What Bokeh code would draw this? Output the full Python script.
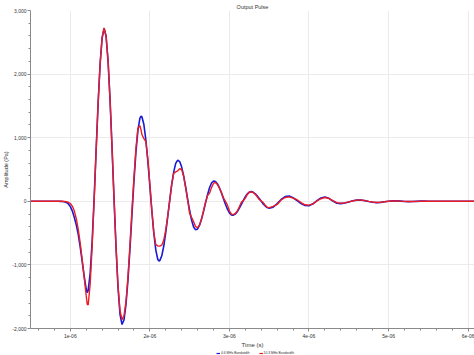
from bokeh.plotting import figure
from bokeh.layouts import column
from bokeh.models import (Legend, LegendItem, FixedTicker, NumeralTickFormatter,
                          CustomJSTickFormatter, Range1d)
from bokeh.embed import file_html
from bokeh.resources import INLINE

# time in microseconds
time_us = [
    0.45, 0.6, 0.75, 0.8, 0.85, 0.875, 0.9, 0.925, 0.95, 0.975,
    1.0, 1.025, 1.05, 1.075, 1.1, 1.125, 1.15, 1.175, 1.2, 1.213,
    1.225, 1.25, 1.275, 1.3, 1.325, 1.35, 1.375, 1.4, 1.425, 1.45,
    1.475, 1.5, 1.525, 1.55, 1.575, 1.6, 1.625, 1.65, 1.675, 1.7,
    1.725, 1.75, 1.775, 1.8, 1.825, 1.85, 1.875, 1.89, 1.9, 1.925,
    1.95, 1.975, 2.0, 2.025, 2.05, 2.075, 2.1, 2.115, 2.125, 2.15,
    2.175, 2.2, 2.225, 2.25, 2.275, 2.3, 2.325, 2.35, 2.375, 2.4,
    2.425, 2.45, 2.475, 2.5, 2.525, 2.55, 2.575, 2.6, 2.625, 2.65,
    2.675, 2.7, 2.725, 2.75, 2.775, 2.8, 2.825, 2.85, 2.875, 2.9,
    2.925, 2.95, 2.975, 3.0, 3.025, 3.04, 3.05, 3.075, 3.1, 3.125,
    3.15, 3.175, 3.2, 3.225, 3.25, 3.275, 3.3, 3.325, 3.35, 3.375,
    3.4, 3.425, 3.45, 3.475, 3.5, 3.55, 3.6, 3.65, 3.7, 3.75,
    3.8, 3.85, 3.9, 3.95, 4.0, 4.05, 4.1, 4.15, 4.2, 4.25,
    4.3, 4.35, 4.4, 4.45, 4.5, 4.55, 4.6, 4.65, 4.7, 4.75,
    4.8, 4.85, 4.9, 4.95, 5.0, 5.05, 5.1, 5.15, 5.2, 5.25,
    5.3, 5.35, 5.4, 5.45, 5.5, 5.6, 5.8, 6.0, 6.1,
]

# 4.6 MHz bandwidth (blue), amplitude in Pa
amp_46 = [
    0, 0, 0, 0, 0, -1, -3, -8, -18, -40,
    -80, -150, -250, -370, -520, -720, -950, -1180, -1380, -1435,
    -1402, -1133, -625, 53, 810, 1545, 2159, 2568, 2720, 2592,
    2200, 1592, 840, 35, -727, -1358, -1776, -1938, -1865, -1622,
    -1235, -749, -213, 312, 772, 1116, 1308, 1340, 1329, 1207,
    963, 626, 240, -152, -502, -767, -915, -940, -933, -857,
    -703, -490, -239, 22, 265, 463, 596, 648, 625, 538,
    399, 225, 35, -145, -298, -403, -449, -435, -376, -280,
    -158, -25, 104, 212, 287, 319, 310, 273, 210, 130,
    41, -47, -124, -182, -215, -220, -218, -199, -161, -108,
    -47, 16, 73, 118, 145, 152, 142, 118, 85, 44,
    0, -41, -75, -99, -109, -92, -37, 29, 75, 82,
    56, 10, -37, -67, -70, -39, 10, 53, 68, 47,
    4, -30, -36, -26, -10, 8, 19, 21, 11, -3,
    -16, -21, -17, -8, 1, 7, 7, 3, -2, -5,
    -4, -1, 2, 3, 1, 0, 0, 0, 0,
]

# 10.3 MHz bandwidth (red), amplitude in Pa
amp_103 = [
    0, 0, 0, 0, 0, 0, 0, -2, -6, -15,
    -35, -75, -150, -270, -440, -660, -920, -1200, -1480, -1620,
    -1630, -1300, -700, 20, 800, 1545, 2165, 2575, 2725, 2600,
    2205, 1590, 830, 30, -720, -1330, -1720, -1860, -1800, -1580,
    -1190, -690, -140, 370, 830, 1150, 1190, 1120, 1050, 985,
    940, 660, 270, -140, -500, -680, -700, -705, -705, -690,
    -610, -450, -230, 10, 270, 440, 462, 480, 512, 500,
    390, 210, 20, -190, -255, -320, -400, -415, -370, -275,
    -145, -15, 90, 125, 215, 285, 295, 262, 205, 140,
    55, 0, -60, -150, -200, -210, -210, -190, -150, -85,
    -15, 10, 50, 108, 143, 150, 135, 110, 72, 28,
    5, -20, -62, -95, -100, -80, -50, 20, 60, 70,
    50, 25, -20, -55, -60, -40, 5, 40, 60, 45,
    10, -20, -30, -25, -10, 5, 18, 20, 10, -2,
    -12, -18, -15, -8, 0, 5, 6, 3, -1, -4,
    -3, -1, 1, 2, 1, 0, 0, 0, 0,
]

series_labels = ["4.6 MHz Bandwidth", "10.3 MHz Bandwidth"]
series_colors = ["#1a1ad6", "#ec1c24"]
x_ticks = [1e-6, 2e-6, 3e-6, 4e-6, 5e-6, 6e-6]
y_ticks = [-2000, -1000, 0, 1000, 2000, 3000]

time_s = [t * 1e-6 for t in time_us]

FONT = "Liberation Sans"
TXT = "#333333"

p = figure(width=474, height=350, output_backend="svg", toolbar_location=None,
           x_range=Range1d(0.5e-6, 6.08e-6), y_range=Range1d(-2000, 3000),
           title="Output Pulse",
           min_border_left=28, min_border_right=0, min_border_top=10, min_border_bottom=20)
p.outline_line_color = None
p.background_fill_color = "white"

p.title.text_font = FONT
p.title.text_font_size = "5.5px"
p.title.text_font_style = "normal"
p.title.text_color = TXT
p.title.align = "center"
p.title.offset = 0
p.title.standoff = 2

p.line(time_s, amp_46, line_color=series_colors[0], line_width=1.6)
p.line(time_s, amp_103, line_color=series_colors[1], line_width=1.4)

minor_x = [round(0.2 * i, 1) * 1e-6 for i in range(3, 31) if (i % 5) != 0]
p.xaxis.ticker = FixedTicker(ticks=x_ticks, minor_ticks=minor_x)
p.xaxis.formatter = CustomJSTickFormatter(code="return tick.toExponential(0).replace('e-', 'e-0');")
minor_y = [v for v in range(-2000, 3001, 200) if v % 1000 != 0]
p.yaxis.ticker = FixedTicker(ticks=y_ticks, minor_ticks=minor_y)
p.yaxis.formatter = NumeralTickFormatter(format="0,0")

p.xaxis.axis_label = "Time (s)"
p.yaxis.axis_label = "Amplitude (Pa)"

for ax in (p.xaxis, p.yaxis):
    ax.axis_line_color = "#8a8a8a"
    ax.major_tick_line_color = "#8a8a8a"
    ax.minor_tick_line_color = "#8a8a8a"
    ax.major_tick_in = 0
    ax.major_tick_out = 3
    ax.minor_tick_in = 0
    ax.minor_tick_out = 2
    ax.major_label_text_font = FONT
    ax.major_label_text_font_size = "5px"
    ax.major_label_text_color = TXT
    ax.axis_label_text_font = FONT
    ax.axis_label_text_font_size = "6px"
    ax.axis_label_text_font_style = "normal"
    ax.axis_label_text_color = TXT
    ax.major_label_standoff = 1
    ax.axis_label_standoff = 1

p.yaxis.axis_label_text_font_size = "5.5px"
p.yaxis.axis_label_standoff = 0
p.xaxis.major_label_standoff = 2
p.xaxis.axis_label_standoff = 1

p.xgrid.grid_line_color = "#ebebeb"
p.ygrid.grid_line_color = "#ebebeb"

# separate strip for the legend, below the axis title
lf = figure(width=474, height=5, output_backend="svg", toolbar_location=None,
            x_range=Range1d(0.5e-6, 6.08e-6), y_range=Range1d(10000, 20000),
            x_axis_location=None, y_axis_location=None,
            min_border_left=28, min_border_right=0, min_border_top=0, min_border_bottom=0)
lf.outline_line_color = None
lf.grid.visible = False
lr1 = lf.line(time_s, amp_46, line_color=series_colors[0], line_width=1.2)
lr2 = lf.line(time_s, amp_103, line_color=series_colors[1], line_width=1.2)

legend = Legend(items=[LegendItem(label=series_labels[0], renderers=[lr1]),
                       LegendItem(label=series_labels[1], renderers=[lr2])],
                orientation="horizontal", location=(186, 0))
legend.label_text_font = FONT
legend.label_text_font_size = "3.3px"
legend.label_text_color = TXT
legend.glyph_width = 4
legend.glyph_height = 4
legend.label_height = 4
legend.label_standoff = 1
legend.spacing = 9
legend.padding = 0
legend.margin = 0
legend.border_line_color = None
legend.background_fill_alpha = 0
lf.add_layout(legend)

layout = column(p, lf, spacing=0)
open("out.html", "w").write(file_html(layout, INLINE))
